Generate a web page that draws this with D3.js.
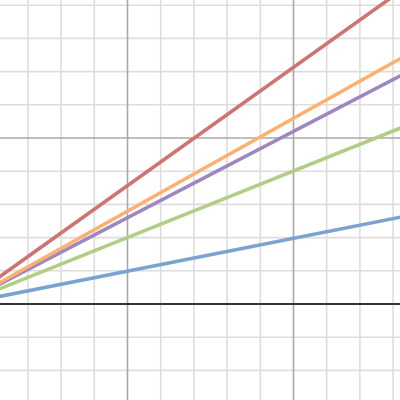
<!DOCTYPE html>
<html lang="en">
<head>
    <meta charset="UTF-8">
    <title>Lines through origin</title>
    <script src="https://d3js.org/d3.v7.min.js"></script>
    <style>
      html, body { margin: 0; padding: 0; background: #fff; }
      svg { display: block; }
    </style>
</head>
<body>
    <svg id="chart"></svg>

    <script>
      // Data: x positions and y values of each line
      var xs = [0, 14];
      var blueVals   = [0, 2.77];
      var greenVals  = [0, 5.61];
      var purpleVals = [0, 7.28];
      var orangeVals = [0, 7.83];
      var redVals    = [0, 9.98];

      var seriesNames  = ["blue", "green", "purple", "orange", "red"];
      var seriesValues = [blueVals, greenVals, purpleVals, orangeVals, redVals];
      var seriesColors = ["#7ba3d1", "#b3cd87", "#9d87c0", "#fdb06f", "#cc7573"];

      var width = 400, height = 400;

      var svg = d3.select("#chart")
          .attr("width", width)
          .attr("height", height);

      // 33.2 px per unit, origin sits just off the left edge
      var x = d3.scaleLinear().domain([38.5 / 33.2, (400 + 38.5) / 33.2]).range([0, width]);
      var y = d3.scaleLinear().domain([-96 / 33.2, 304 / 33.2]).range([height, 0]);

      var minorX = d3.range(1, 14).filter(function (d) { return d % 5 !== 0; });
      var minorY = d3.range(-3, 10).filter(function (d) { return d % 5 !== 0; });
      var majorX = [5, 10];
      var majorY = [5];

      // minor grid
      svg.append("g").selectAll("line")
          .data(minorX)
        .enter().append("line")
          .attr("x1", function (d) { return x(d); })
          .attr("x2", function (d) { return x(d); })
          .attr("y1", 0).attr("y2", height)
          .attr("stroke", "#dddddd").attr("stroke-width", 1.6);

      svg.append("g").selectAll("line")
          .data(minorY)
        .enter().append("line")
          .attr("y1", function (d) { return y(d); })
          .attr("y2", function (d) { return y(d); })
          .attr("x1", 0).attr("x2", width)
          .attr("stroke", "#dddddd").attr("stroke-width", 1.6);

      // major grid
      svg.append("g").selectAll("line")
          .data(majorX)
        .enter().append("line")
          .attr("x1", function (d) { return x(d); })
          .attr("x2", function (d) { return x(d); })
          .attr("y1", 0).attr("y2", height)
          .attr("stroke", "#a8a8a8").attr("stroke-width", 1.6);

      svg.append("g").selectAll("line")
          .data(majorY)
        .enter().append("line")
          .attr("y1", function (d) { return y(d); })
          .attr("y2", function (d) { return y(d); })
          .attr("x1", 0).attr("x2", width)
          .attr("stroke", "#a8a8a8").attr("stroke-width", 1.6);

      // x axis
      svg.append("line")
          .attr("x1", 0).attr("x2", width)
          .attr("y1", y(0)).attr("y2", y(0))
          .attr("stroke", "#333333").attr("stroke-width", 2);

      // lines
      var line = d3.line()
          .x(function (d, i) { return x(xs[i]); })
          .y(function (d) { return y(d); });

      svg.append("g").selectAll("path")
          .data(seriesValues)
        .enter().append("path")
          .attr("class", function (d, i) { return "line " + seriesNames[i]; })
          .attr("d", line)
          .attr("fill", "none")
          .attr("stroke", function (d, i) { return seriesColors[i]; })
          .attr("stroke-width", 3.6);
    </script>
</body>
</html>
